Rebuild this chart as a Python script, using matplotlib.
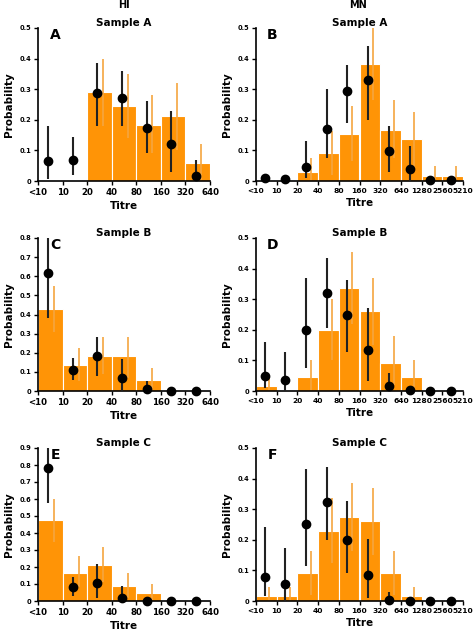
import matplotlib
matplotlib.use("Agg")
import matplotlib.pyplot as plt
import numpy as np

hi_ticks = ["<10", "10", "20", "40", "80", "160", "320", "640"]
mn_ticks = ["<10", "10", "20", "40", "80", "160", "320", "640", "1280", "2560", "5210"]

# Panel A (HI, Sample A)
A_bar = [0, 0, 0.29, 0.245, 0.183, 0.213, 0.06]
A_blo = [None, None, 0.18, 0.14, 0.09, 0.10, 0.0]
A_bhi = [None, None, 0.40, 0.35, 0.28, 0.32, 0.12]
A_dot = [0.065, 0.07, 0.288, 0.272, 0.172, 0.12, 0.015]
A_dlo = [0.005, 0.02, 0.18, 0.18, 0.09, 0.03, 0.0]
A_dhi = [0.18, 0.145, 0.385, 0.36, 0.26, 0.23, 0.07]
# Panel B (MN, Sample A)
B_bar = [0, 0, 0.03, 0.09, 0.152, 0.382, 0.167, 0.137, 0.015, 0.015]
B_blo = [None, None, 0.0, 0.02, 0.065, 0.265, 0.075, 0.04, 0.0, 0.0]
B_bhi = [None, None, 0.075, 0.165, 0.245, 0.50, 0.265, 0.225, 0.048, 0.048]
B_dot = [0.01, 0.008, 0.047, 0.17, 0.293, 0.33, 0.098, 0.04, 0.002, 0.002]
B_dlo = [0.0, 0.0, 0.01, 0.075, 0.19, 0.2, 0.03, 0.0, 0.0, 0.0]
B_dhi = [0.02, 0.015, 0.13, 0.30, 0.38, 0.44, 0.18, 0.115, 0.005, 0.005]
# Panel C (HI, Sample B)
C_bar = [0.43, 0.135, 0.183, 0.183, 0.06, 0, 0]
C_blo = [0.31, 0.05, 0.09, 0.07, 0.0, None, None]
C_bhi = [0.55, 0.225, 0.28, 0.28, 0.12, None, None]
C_dot = [0.615, 0.11, 0.185, 0.07, 0.01, 0.001, 0.001]
C_dlo = [0.38, 0.06, 0.08, 0.0, 0.0, 0.0, 0.0]
C_dhi = [0.83, 0.175, 0.28, 0.165, 0.05, 0.003, 0.003]
# Panel D (MN, Sample B)
D_bar = [0.015, 0, 0.045, 0.2, 0.337, 0.26, 0.092, 0.045, 0, 0]
D_blo = [0.0, None, 0.0, 0.1, 0.22, 0.15, 0.02, 0.0, None, None]
D_bhi = [0.05, None, 0.10, 0.30, 0.455, 0.37, 0.18, 0.10, None, None]
D_dot = [0.048, 0.037, 0.198, 0.32, 0.247, 0.133, 0.015, 0.002, 0.001, 0.001]
D_dlo = [0.01, 0.0, 0.075, 0.205, 0.128, 0.032, 0.0, 0.0, 0.0, 0.0]
D_dhi = [0.16, 0.128, 0.37, 0.435, 0.362, 0.27, 0.06, 0.005, 0.003, 0.003]
# Panel E (HI, Sample C)
E_bar = [0.475, 0.165, 0.212, 0.09, 0.045, 0, 0]
E_blo = [0.35, 0.08, 0.11, 0.015, 0.0, None, None]
E_bhi = [0.60, 0.265, 0.32, 0.165, 0.10, None, None]
E_dot = [0.785, 0.085, 0.108, 0.02, 0.002, 0.001, 0.001]
E_dlo = [0.575, 0.03, 0.02, 0.0, 0.0, 0.0, 0.0]
E_dhi = [0.95, 0.14, 0.215, 0.09, 0.005, 0.003, 0.003]
# Panel F (MN, Sample C)
F_bar = [0.015, 0.015, 0.09, 0.23, 0.275, 0.26, 0.09, 0.015, 0, 0]
F_blo = [0.0, 0.0, 0.02, 0.125, 0.165, 0.15, 0.02, 0.0, None, None]
F_bhi = [0.045, 0.045, 0.165, 0.335, 0.385, 0.37, 0.165, 0.045, None, None]
F_dot = [0.078, 0.056, 0.252, 0.322, 0.198, 0.085, 0.004, 0.001, 0.001, 0.001]
F_dlo = [0.015, 0.0, 0.113, 0.198, 0.09, 0.01, 0.0, 0.0, 0.0, 0.0]
F_dhi = [0.243, 0.173, 0.432, 0.437, 0.328, 0.203, 0.028, 0.003, 0.003, 0.003]

ORANGE = "#FF9406"
ORANGE_ERR = "#F5A640"

W, H = 474, 635
fig = plt.figure(figsize=(W / 100, H / 100), dpi=100)

def ax_at(l, r, t, b):
    return fig.add_axes([l / W, 1 - b / H, (r - l) / W, (b - t) / H])

panels = [
    ("A", "Sample A", hi_ticks, A_bar, A_blo, A_bhi, A_dot, A_dlo, A_dhi, 0.5, (38, 210, 28, 181)),
    ("B", "Sample A", mn_ticks, B_bar, B_blo, B_bhi, B_dot, B_dlo, B_dhi, 0.5, (256, 463, 28, 181)),
    ("C", "Sample B", hi_ticks, C_bar, C_blo, C_bhi, C_dot, C_dlo, C_dhi, 0.8, (38, 210, 238, 391)),
    ("D", "Sample B", mn_ticks, D_bar, D_blo, D_bhi, D_dot, D_dlo, D_dhi, 0.5, (256, 463, 238, 391)),
    ("E", "Sample C", hi_ticks, E_bar, E_blo, E_bhi, E_dot, E_dlo, E_dhi, 0.9, (38, 210, 448, 601)),
    ("F", "Sample C", mn_ticks, F_bar, F_blo, F_bhi, F_dot, F_dlo, F_dhi, 0.5, (256, 463, 448, 601)),
]

for lab, title, ticks, bar, blo, bhi, dot, dlo, dhi, ytop, box in panels:
    ax = ax_at(*box)
    n = len(bar)
    x = np.arange(n)
    ax.bar(x, bar, width=1.0, align="edge", color=ORANGE, edgecolor="white", linewidth=0.8, zorder=1)
    for i in range(n):
        if blo[i] is not None:
            ax.vlines(i + 0.65, blo[i], bhi[i], color=ORANGE_ERR, lw=1.2, zorder=2)
    ax.vlines(x + 0.42, dlo, dhi, color="#222222", lw=1.5, zorder=3)
    ax.plot(x + 0.42, dot, "o", color="black", ms=6, zorder=4, clip_on=False)
    ax.set_xlim(0, len(ticks) - 1)
    ax.set_ylim(0, ytop)
    ax.set_xticks(np.arange(len(ticks)))
    fs = 6.2 if len(ticks) < 10 else 5.4
    ax.set_xticklabels(ticks, fontsize=fs, fontweight="bold")
    yt = np.arange(0, ytop + 1e-9, 0.1)
    ax.set_yticks(yt)
    ax.set_yticklabels(["0" if v == 0 else f"{v:.1f}" for v in yt], fontsize=4.8, fontweight="bold")
    for s in ("top", "right"):
        ax.spines[s].set_visible(False)
    for s in ("left", "bottom"):
        ax.spines[s].set_linewidth(1.2)
    ax.tick_params(length=3, width=1.0, pad=2)
    ax.set_xlabel("Titre", fontsize=7.5, fontweight="bold", labelpad=3)
    ax.set_ylabel("Probability", fontsize=7.5, fontweight="bold", labelpad=4)
    ax.set_title(title, fontsize=7.5, fontweight="bold", pad=1)
    ax.text(0.1 if lab in "ACE" else 0.08, 1.0, lab, transform=ax.transAxes,
            fontsize=10, fontweight="bold", va="top", ha="center")

fig.text(124 / W, 1 - 5 / H, "HI", fontsize=7, fontweight="bold", ha="center", va="center")
fig.text(358 / W, 1 - 5 / H, "MN", fontsize=7, fontweight="bold", ha="center", va="center")

fig.savefig("out.png", dpi=100)
